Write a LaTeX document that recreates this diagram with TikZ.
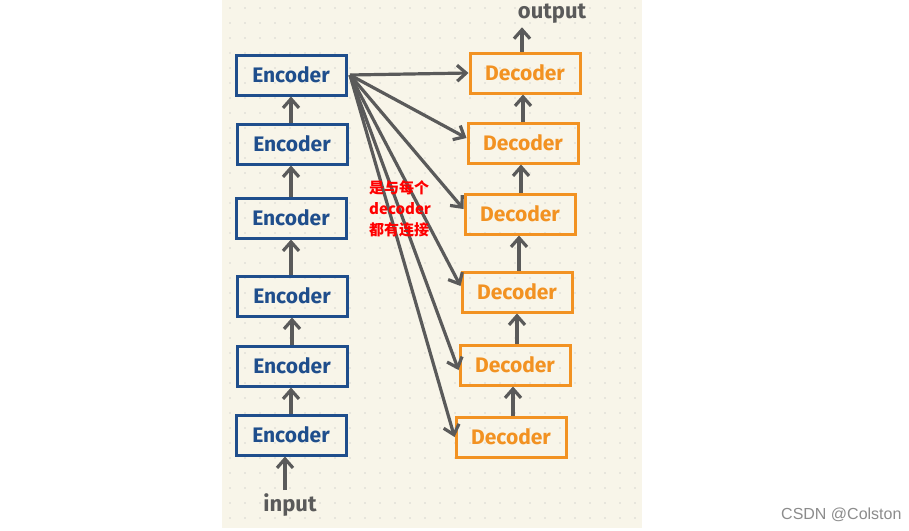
\documentclass[tikz,border=0pt]{standalone}
\usepackage{fontspec}
\setmainfont{Fira Sans}
\newfontfamily\cjk{Noto Sans CJK SC}
\newfontfamily\wm{Liberation Sans}
\usetikzlibrary{arrows.meta}
\definecolor{paper}{HTML}{F8F5E9}
\definecolor{encblue}{HTML}{1F4E8C}
\definecolor{decor}{HTML}{F29222}
\definecolor{arr}{HTML}{5A5A5A}
\tikzset{
 enc/.style={draw=encblue,line width=3pt,minimum width=110pt,minimum height=40pt,inner sep=0pt,text=encblue,font=\bfseries\fontsize{21}{22}\selectfont},
 dec/.style={draw=decor,line width=3pt,minimum width=110pt,minimum height=40pt,inner sep=0pt,text=decor,font=\bfseries\fontsize{21}{22}\selectfont},
 ar/.style={draw=arr,line width=3.2pt,-{Straight Barb[length=9pt,width=16pt]}},
 hand/.style={text=arr,font=\bfseries\fontsize{22}{22}\selectfont}
}
\begin{document}
\begin{tikzpicture}[x=1pt,y=-1pt]
\useasboundingbox (0,0) rectangle (909,530);
\fill[white] (0,0) rectangle (909,530);
\fill[paper] (222,0) rectangle (642,528);
\foreach \i in {0,...,27}{\foreach \j in {0,...,35}{\fill[black!30] (230+15*\i,8+15*\j) circle (0.7);}}
\node[enc] (e1) at (291,75) {Encoder};
\node[enc] (e2) at (292,144) {Encoder};
\node[enc] (e3) at (291,218) {Encoder};
\node[enc] (e4) at (292,296) {Encoder};
\node[enc] (e5) at (292,366) {Encoder};
\node[enc] (e6) at (291,435) {Encoder};
\node[dec] (d1) at (525,73) {Decoder};
\node[dec] (d2) at (523,143) {Decoder};
\node[dec] (d3) at (520,214) {Decoder};
\node[dec] (d4) at (517,292) {Decoder};
\node[dec] (d5) at (515,365) {Decoder};
\node[dec] (d6) at (511,437) {Decoder};
\node[hand] (in) at (290,505) {input};
\node[hand] (out) at (552,14) {output};
\draw[ar] (in.north -| 285,0) -- (e6.south -| 285,0);
\draw[ar] (e6.north -| 291,0) -- (e5.south -| 291,0);
\draw[ar] (e5.north -| 292,0) -- (e4.south -| 292,0);
\draw[ar] (e4.north -| 291,0) -- (e3.south -| 291,0);
\draw[ar] (e3.north -| 291,0) -- (e2.south -| 291,0);
\draw[ar] (e2.north -| 291,0) -- (e1.south -| 291,0);
\draw[ar] (d6.north -| 513,0) -- (d5.south -| 513,0);
\draw[ar] (d5.north -| 517,0) -- (d4.south -| 517,0);
\draw[ar] (d4.north -| 519,0) -- (d3.south -| 519,0);
\draw[ar] (d3.north -| 521,0) -- (d2.south -| 521,0);
\draw[ar] (d2.north -| 523,0) -- (d1.south -| 523,0);
\draw[ar] (d1.north -| 522,0) -- (out.south -| 522,0);
\coordinate (src) at (350,75);
\draw[ar] (src) -- (d1.west);
\draw[ar] (src) -- ([yshift=5pt]d2.west);
\draw[ar] (src) -- ([yshift=5pt]d3.west);
\draw[ar] (src) -- ([yshift=6pt]d4.west);
\draw[ar] (src) -- ([yshift=-5pt]d5.west);
\draw[ar] (src) -- (d6.west);
\node[text=red,font=\cjk\bfseries\fontsize{15}{21}\selectfont,align=left,anchor=north west,inner sep=0pt] (note) at (369,180) {是与每个\\decoder\\都有连接};
\node[text=black!45,font=\wm\fontsize{16}{16}\selectfont,anchor=east] (wmk) at (905,515) {CSDN @Colston};
\end{tikzpicture}
\end{document}
